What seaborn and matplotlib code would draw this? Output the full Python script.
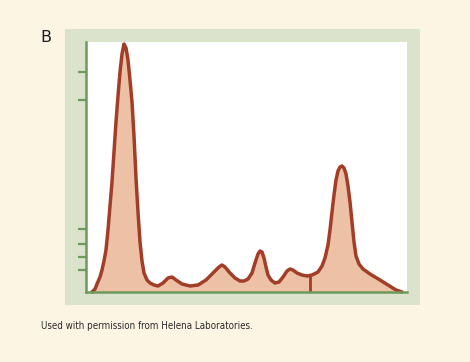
import matplotlib
matplotlib.use("Agg")
import matplotlib.pyplot as plt
from matplotlib.patches import Rectangle
import seaborn as sns
import pandas as pd

# Densitometer trace (position, absorbance)
position = [6, 9, 11, 14, 16, 18, 20, 22, 24, 26, 28, 30, 32, 34, 36, 38, 40, 42, 44, 46,
            48, 50, 52, 54, 56, 58, 61, 64, 68, 72, 77, 82, 86, 90, 96, 104, 112, 120,
            128, 133, 136, 139, 144, 149, 154, 158, 162, 166, 169, 172, 174, 176, 178, 180,
            182, 185, 189, 193, 197, 201, 204, 207, 211, 216, 221, 226, 230, 232, 236, 239,
            242, 244, 246, 248, 250, 252, 254, 256, 258, 260, 262, 264, 266, 268, 270, 273,
            277, 284, 294, 302, 310, 316]
absorbance = [0, 3, 8, 15, 22, 31, 42, 62, 86, 110, 140, 170, 196, 220, 238, 248, 244, 232, 212, 190,
              156, 114, 80, 50, 31, 19, 12, 9, 7, 6, 9, 14, 15, 12, 8, 6, 7, 12,
              20, 25, 27, 25, 19, 14, 11, 11, 13, 19, 29, 38, 41, 40, 34, 25,
              17, 12, 9, 10, 15, 21, 23, 22, 19, 17, 16, 17, 19, 20, 26, 34,
              47, 62, 80, 97, 112, 121, 125, 126, 124, 118, 106, 90, 70, 50, 36, 28,
              23, 18, 12, 7, 2, 0]
marker_x = [224]
marker_top = [17]
y_ticks = [22, 35, 48, 63, 192, 220]

df = pd.DataFrame({"position": position, "absorbance": absorbance})

sns.set_style("white")
plt.rcParams['font.family'] = ['DejaVu Sans']

W, H = 470, 362
fig = plt.figure(figsize=(W / 100, H / 100), dpi=100)
fig.patch.set_facecolor("#fdf5e3")

# green panel behind the plot
fig.patches.append(Rectangle((65 / W, 1 - 305 / H), (420 - 65) / W, (305 - 29) / H,
                             transform=fig.transFigure, facecolor="#dce3cc",
                             edgecolor="none", zorder=0))

ax = fig.add_axes([86 / W, 1 - 292 / H, 321 / W, 250 / H])
ax.set_facecolor("white")
ax.set_zorder(1)

line_c = "#a23d27"
fill_c = "#edc1a5"
axis_c = "#6e9a5b"

ax.fill_between(df["position"], 0, df["absorbance"], color=fill_c, linewidth=0, zorder=1)
sns.lineplot(data=df, x="position", y="absorbance", ax=ax, color=line_c, linewidth=2.5,
             sort=False, zorder=3)
for l in ax.lines:
    l.set_solid_joinstyle("round")
    l.set_solid_capstyle("round")
    l.set_clip_on(False)
ax.vlines(marker_x, 0, marker_top, color=line_c, linewidth=2.0, zorder=3)

ax.set_xlim(0, 321)
ax.set_ylim(0, 250)
ax.set_xlabel("")
ax.set_ylabel("")
ax.set_xticks([])
ax.set_yticks(y_ticks)
ax.set_yticklabels([])
ax.tick_params(axis="y", direction="out", length=6, width=1.6, color=axis_c, left=True)
for s in ["top", "right"]:
    ax.spines[s].set_visible(False)
for s in ["left", "bottom"]:
    ax.spines[s].set_color(axis_c)
    ax.spines[s].set_linewidth(1.8)
    ax.spines[s].set_zorder(4)

fig.text(40 / W, 1 - 38 / H, "B", fontsize=11.5, color="#1a1a1a", va="center", ha="left")
fig.text(41 / W, 1 - 326 / H, "Used with permission from Helena Laboratories.",
         fontsize=7, color="#2a2a2a", va="center", ha="left",
         family=['Liberation Sans Narrow', 'DejaVu Sans'], fontstretch="condensed")

fig.savefig("out.png", dpi=100, facecolor=fig.get_facecolor())
